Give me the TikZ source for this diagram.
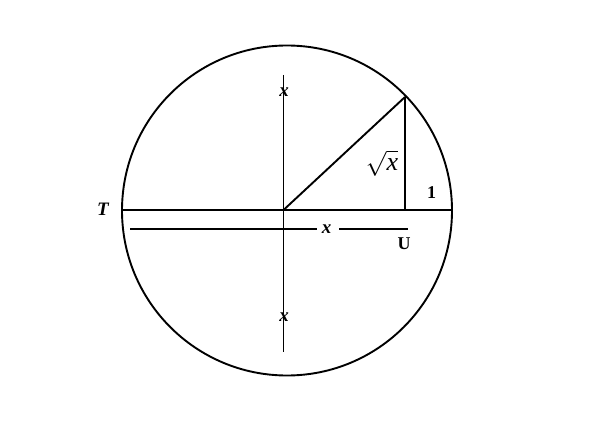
\documentclass[tikz,border=0pt]{standalone}
\usepackage{fontspec}
\setmainfont{Liberation Serif}
\begin{document}
\begin{tikzpicture}[x=1pt,y=-1pt,
  lbl/.style={inner sep=0pt,font=\bfseries\itshape\fontsize{19}{19}\selectfont},
  lblb/.style={inner sep=0pt,font=\bfseries\fontsize{18}{18}\selectfont},
  thick line/.style={line width=1.9pt},
  thin line/.style={line width=1pt}]
\useasboundingbox (0,0) rectangle (595,425);
\coordinate (C) at (287,210.5);
\draw[thick line] (C) circle (165);
\coordinate (L) at (122,210);
\coordinate (R) at (452,210);
\coordinate (O) at (283.5,210);
\coordinate (P) at (405,97);
\coordinate (F) at (405,210);
\coordinate (VT) at (283.5,75);
\coordinate (VB) at (283.5,352);
\draw[thick line] (L) -- (R);
\draw[thin line] (VT) -- (VB);
\draw[thick line] (O) -- (P);
\draw[thick line] (P) -- (F);
\node[lbl] (xt) at (284,92) {x};
\node[lbl] (xb) at (284,317.5) {x};
\node[inner sep=0pt,font=\fontsize{26}{26}\selectfont] (sq) at (382,163) {$\sqrt{\mbox{\itshape x}}$};
\node[lblb] (one) at (431.5,193) {1};
\node[lbl] (T) at (103,209) {T};
\node[lbl] (xm) at (326.7,229.5) {x};
\node[lblb] (U) at (404,243.7) {U};
\coordinate (A1) at (130,229);
\coordinate (A2) at (316.5,229);
\coordinate (B1) at (339,229);
\coordinate (B2) at (408,229);
\draw[thick line] (A1) -- (A2);
\draw[thick line] (B1) -- (B2);
\end{tikzpicture}
\end{document}
